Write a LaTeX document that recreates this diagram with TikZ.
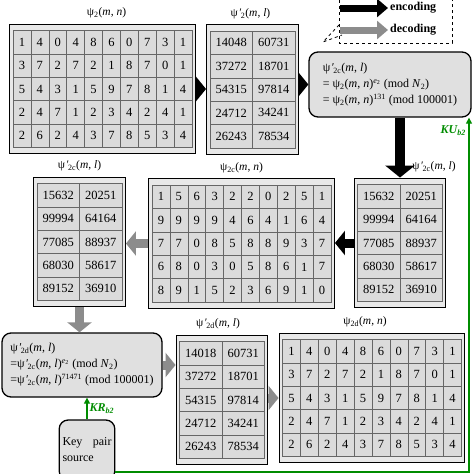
\documentclass[tikz,border=0pt]{standalone}
\usepackage{fontspec}
\setmainfont{Liberation Serif}
\usetikzlibrary{positioning,matrix,arrows.meta}
\newcommand{\psip}[1]{ψ\kern1.5pt\rlap{′}\textsubscript{\kern1.5pt#1}}

\begin{document}
\begin{tikzpicture}[x=1pt,y=-1pt,
    grid/.style={matrix of nodes, draw=black, line width=1.3pt, fill=black!9,
      inner xsep=3pt, inner ysep=6pt, column sep=-0.6pt, row sep=-0.6pt,
      nodes={draw=black!60, fill=black!14, line width=0.6pt, inner sep=0pt,
        anchor=center, font=\fontsize{12.5}{12}\selectfont}},
    digits/.style={grid, nodes={minimum width=17.9pt, minimum height=23.4pt}},
    pairs/.style={grid, nodes={minimum width=42.5pt, minimum height=23.4pt}},
    lbl/.style={inner sep=1pt, font=\fontsize{11.5}{12}\selectfont},
    rbox/.style={draw=black, line width=1.3pt, fill=black!12, rounded corners=9pt,
      align=left, font=\fontsize{12}{16}\selectfont},
    enc/.style={draw=black, line width=9pt, -{Triangle[length=10pt,width=24pt]}},
    dec/.style={draw=black!45, line width=9pt, -{Triangle[length=10pt,width=24pt]}},
    kline/.style={draw=green!55!black, line width=1.3pt, -{Triangle[length=6pt,width=6pt]}},
    klbl/.style={text=green!55!black, inner sep=2pt, font=\bfseries\itshape\fontsize{12}{12}\selectfont},
    legtxt/.style={inner sep=2pt, font=\bfseries\fontsize{12}{12}\selectfont}]
  \useasboundingbox (0,0) rectangle (474,474);

  % top row
  \matrix[digits] (m1) at (102.5,89) {
    1 & 4 & 0 & 4 & 8 & 6 & 0 & 7 & 3 & 1 \\
    3 & 7 & 2 & 7 & 2 & 1 & 8 & 7 & 0 & 1 \\
    5 & 4 & 3 & 1 & 5 & 9 & 7 & 8 & 1 & 4 \\
    2 & 4 & 7 & 1 & 2 & 3 & 4 & 2 & 4 & 1 \\
    2 & 6 & 2 & 4 & 3 & 7 & 8 & 5 & 3 & 4 \\
  };
  \node[lbl, above=4pt of m1, xshift=4pt] (l1) {ψ\textsubscript{2}(\textit{m}, \textit{n})};

  \matrix[pairs] (m2) at (252.5,89.5) {
    14048 & 60731 \\
    37272 & 18701 \\
    54315 & 97814 \\
    24712 & 34241 \\
    26243 & 78534 \\
  };
  \node[lbl, above=4pt of m2, xshift=-2pt] (l2) {\psip{2}(\textit{m}, \textit{l})};

  \node[rbox, minimum width=162pt, minimum height=65pt] (enc1) at (390,84.5) {%
    \psip{2c}(\textit{m}, \textit{l})\\
    = ψ\textsubscript{2}(\textit{m}, \textit{n})\textsuperscript{\textit{e}\textsubscript{2}} (mod \textit{N}\textsubscript{2})\\
    = ψ\textsubscript{2}(\textit{m}, \textit{n})\textsuperscript{131} (mod 100001)};

  % legend
  \draw[dashed, line width=0.8pt] (339,-6) rectangle (452,43);
  \node[legtxt, anchor=west] (enctxt) at (388,8) {encoding};
  \node[legtxt, anchor=west] (dectxt) at (388,30) {decoding};
  \coordinate (encs) at (340,8);
  \coordinate (decs) at (340,30);
  \draw[enc, line width=7pt, -{Triangle[length=11pt,width=18pt]}] (encs) -- (enctxt.west);
  \draw[dec, line width=7pt, -{Triangle[length=11pt,width=18pt]}] (decs) -- (dectxt.west);
  \coordinate (ctip) at (323,42);
  \draw[dashed, line width=0.8pt] (339,25) -- (ctip) -- (342,35);

  % middle row
  \matrix[pairs] (m3) at (400,243) {
    15632 & 20251 \\
    99994 & 64164 \\
    77085 & 88937 \\
    68030 & 58617 \\
    89152 & 36910 \\
  };
  \node[lbl, above=4pt of m3, xshift=34pt] (l3) {\psip{2c}(\textit{m}, \textit{l})};

  \matrix[digits] (m4) at (241.5,243.5) {
    1 & 5 & 6 & 3 & 2 & 2 & 0 & 2 & 5 & 1 \\
    9 & 9 & 9 & 9 & 4 & 6 & 4 & 1 & 6 & 4 \\
    7 & 7 & 0 & 8 & 5 & 8 & 8 & 9 & 3 & 7 \\
    6 & 8 & 0 & 3 & 0 & 5 & 8 & 6 & 1 & 7 \\
    8 & 9 & 1 & 5 & 2 & 3 & 6 & 9 & 1 & 0 \\
  };
  \node[lbl, above=4pt of m4] (l4) {ψ\textsubscript{2c}(\textit{m}, \textit{n})};

  \matrix[pairs] (m5) at (79.5,242) {
    15632 & 20251 \\
    99994 & 64164 \\
    77085 & 88937 \\
    68030 & 58617 \\
    89152 & 36910 \\
  };
  \node[lbl, above=4pt of m5] (l5) {\psip{2c}(\textit{m}, \textit{l})};

  % bottom row
  \node[rbox, minimum width=160pt, minimum height=64pt] (dec1) at (82,365) {%
    \psip{2d}(\textit{m}, \textit{l})\\
    =\psip{2c}(\textit{m}, \textit{l})\textsuperscript{\textit{e}\textsubscript{2}} (mod \textit{N}\textsubscript{2})\\
    =\psip{2c}(\textit{m}, \textit{l})\textsuperscript{71471} (mod 100001)};

  \matrix[pairs] (m6) at (222,400) {
    14018 & 60731 \\
    37272 & 18701 \\
    54315 & 97814 \\
    24712 & 34241 \\
    26243 & 78534 \\
  };
  \node[lbl, above=4pt of m6, xshift=-4pt] (l6) {\psip{2d}(\textit{m}, \textit{l})};

  \matrix[digits] (m7) at (372,398) {
    1 & 4 & 0 & 4 & 8 & 6 & 0 & 7 & 3 & 1 \\
    3 & 7 & 2 & 7 & 2 & 1 & 8 & 7 & 0 & 1 \\
    5 & 4 & 3 & 1 & 5 & 9 & 7 & 8 & 1 & 4 \\
    2 & 4 & 7 & 1 & 2 & 3 & 4 & 2 & 4 & 1 \\
    2 & 6 & 2 & 4 & 3 & 7 & 8 & 5 & 3 & 4 \\
  };
  \node[lbl, above=4pt of m7, xshift=-7pt] (l7) {ψ\textsubscript{2d}(\textit{m}, \textit{n})};

  \node[rbox, align=justify, text width=49pt, minimum height=60pt] (key) at (87,450) {Key pair source};

  % arrows
  \draw[enc] (m1.east) -- (m1.east -| m2.west);
  \draw[enc] (m2.east |- enc1) -- (enc1.west);
  \draw[enc, line width=10pt, -{Triangle[length=12pt,width=29pt]}] (m3.north |- enc1.south) -- (m3.north);
  \draw[enc] (m3.west) -- (m3.west -| m4.east);
  \draw[dec] (m4.west) -- (m4.west -| m5.east);
  \draw[dec] (m5.south) -- (m5.south |- dec1.north);
  \draw[dec] (dec1.east) -- (dec1.east -| m6.west);
  \draw[dec] (m6.east |- m7) -- (m7.west);

  % keys
  \draw[kline] (key.north) -- node[klbl, right] (krl) {KR\textsubscript{b2}} (key.north |- dec1.south);
  \coordinate (kuc) at (469,472);
  \draw[kline] (key.east |- kuc) -- (kuc) -- (kuc |- enc1.south);
  \node[klbl, left=1pt] (kul) at (469,131) {KU\textsubscript{b2}};
\end{tikzpicture}
\end{document}
